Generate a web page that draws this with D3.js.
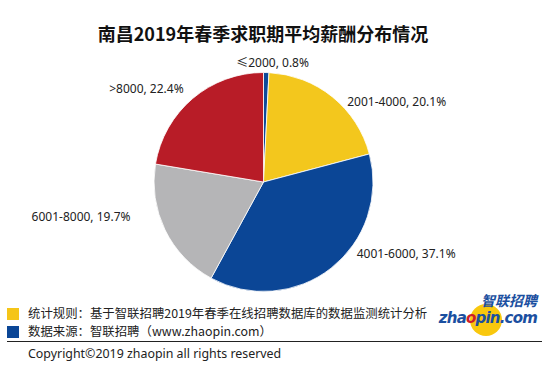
<!DOCTYPE html>
<html>
<head>
<meta charset="utf-8">
<script src="https://cdn.jsdelivr.net/npm/d3@7"></script>
<style>
  body { margin: 0; background: #fff; }
  svg { display: block; }
</style>
</head>
<body>
<script>
// data
var categories = ["≤2000", "2001-4000", "4001-6000", "6001-8000", ">8000"];
var shares = [0.8, 20.1, 37.1, 19.7, 22.4];
var colors = ["#0d4a9a", "#f3c71d", "#0b4696", "#b5b5b7", "#b81c27"];
// label nudges (px) from the default outside position
var labelNudge = [[6, 4], [6, 16], [17, -25], [-22, -19], [0, 1]];

var width = 551;
var height = 374;
var cx = 263.5, cy = 182, radius = 109.5;

var svg = d3.select("body")
  .append("svg")
  .attr("width", width)
  .attr("height", height);

// title
svg.append("text")
  .attr("x", 263)
  .attr("y", 41)
  .attr("text-anchor", "middle")
  .style("font-family", "'Noto Sans CJK SC', sans-serif")
  .style("font-weight", "bold")
  .style("font-size", "18px")
  .style("fill", "#111")
  .text("南昌2019年春季求职期平均薪酬分布情况");

var rows = categories.map((c, i) => ({ name: c, value: shares[i], color: colors[i], nudge: labelNudge[i] }));

var pie = d3.pie()
  .sort(null)
  .value(d => d.value);

var arc = d3.arc().innerRadius(0).outerRadius(radius);
var labelArc = d3.arc().innerRadius(radius + 14).outerRadius(radius + 14);

var g = svg.append("g")
  .attr("transform", "translate(" + cx + "," + cy + ")");

var arcs = pie(rows);

g.selectAll("path")
  .data(arcs)
  .enter()
  .append("path")
  .attr("d", arc)
  .style("fill", d => d.data.color)
  .style("stroke", "#fff")
  .style("stroke-width", 0.8);

g.selectAll("text.lbl")
  .data(arcs)
  .enter()
  .append("text")
  .attr("class", "lbl")
  .attr("transform", function(d) {
    var p = labelArc.centroid(d);
    return "translate(" + (p[0] + d.data.nudge[0]) + "," + (p[1] + d.data.nudge[1]) + ")";
  })
  .attr("text-anchor", function(d) {
    var mid = (d.startAngle + d.endAngle) / 2;
    if (mid < 0.1) return "middle";
    return mid < Math.PI ? "start" : "end";
  })
  .attr("dy", "0.35em")
  .style("font-family", "'Noto Sans', 'Noto Sans CJK SC', sans-serif")
  .style("font-size", "12px")
  .style("fill", "#222")
  .text(d => d.data.name + ", " + d.data.value.toFixed(1) + "%");

// footer notes
var notes = ["统计规则：基于智联招聘2019年春季在线招聘数据库的数据监测统计分析", "数据来源：智联招聘（www.zhaopin.com）"];
var noteColors = ["#f5c518", "#0b4696"];
var noteY = d3.scalePoint().domain(d3.range(notes.length)).range([314, 332]);

svg.selectAll("rect.note")
  .data(notes)
  .enter()
  .append("rect")
  .attr("class", "note")
  .attr("x", 7)
  .attr("y", (d, i) => noteY(i) - 6)
  .attr("width", 12)
  .attr("height", 12)
  .style("fill", (d, i) => noteColors[i]);

svg.selectAll("text.note")
  .data(notes)
  .enter()
  .append("text")
  .attr("class", "note")
  .attr("x", 28)
  .attr("y", (d, i) => noteY(i))
  .attr("dy", "0.35em")
  .style("font-family", "'Noto Sans CJK SC', sans-serif")
  .style("font-size", "12.4px")
  .style("fill", "#222")
  .text(d => d);

svg.append("line")
  .attr("x1", 7).attr("x2", 542)
  .attr("y1", 341.5).attr("y2", 341.5)
  .style("stroke", "#222")
  .style("stroke-width", 1.2);

svg.append("text")
  .attr("x", 28)
  .attr("y", 354)
  .attr("dy", "0.35em")
  .style("font-family", "'Noto Sans', sans-serif")
  .style("font-size", "12.4px")
  .style("fill", "#222")
  .text("Copyright©2019 zhaopin all rights reserved");

// logo
var logo = svg.append("g");
logo.append("circle")
  .attr("cx", 486).attr("cy", 320).attr("r", 16)
  .style("fill", "#f9c80e");
logo.append("text")
  .attr("x", 537).attr("y", 306)
  .attr("text-anchor", "end")
  .style("font-family", "'Noto Sans CJK SC', sans-serif")
  .style("font-weight", "bold")
  .style("font-style", "italic")
  .style("font-size", "14px")
  .style("fill", "#1b4fa0")
  .text("智联招聘");
var zt = logo.append("text")
  .attr("x", 537).attr("y", 323)
  .attr("text-anchor", "end")
  .style("font-family", "'DejaVu Sans', sans-serif")
  .style("font-weight", "bold")
  .style("font-style", "italic")
  .style("font-size", "15px")
  .style("letter-spacing", "-0.8px")
  .style("fill", "#1b4fa0");
zt.append("tspan").text("zha");
zt.append("tspan").style("fill", "#d01c2a").text("o");
zt.append("tspan").text("pin.com");
</script>
</body>
</html>
